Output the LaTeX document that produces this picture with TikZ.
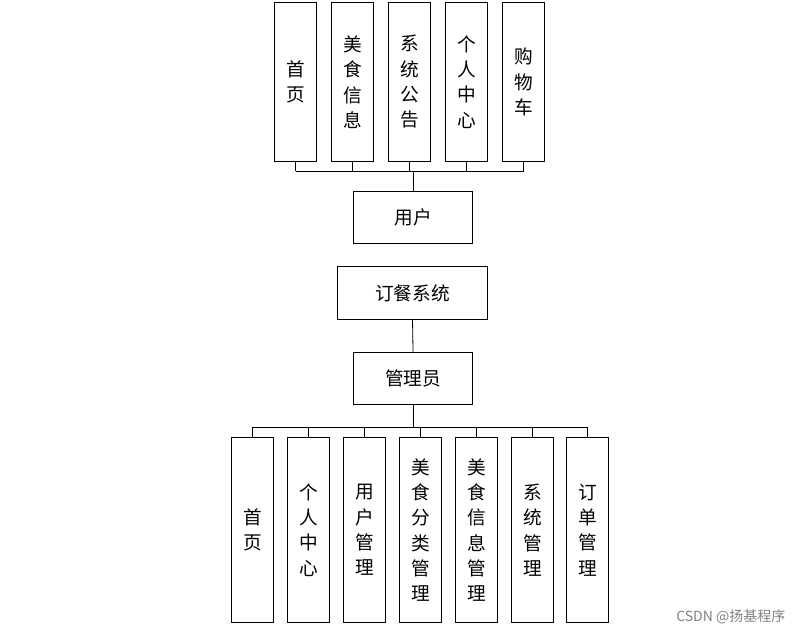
\documentclass[tikz,border=0pt]{standalone}
\usepackage{fontspec}
\setmainfont{Noto Sans CJK SC}
\begin{document}
\begin{tikzpicture}[x=0.75pt,y=-0.75pt,
  bx/.style={draw,thick,inner sep=0,anchor=north west,align=center,font=\fontsize{14}{19}\selectfont},
  ln/.style={draw,semithick}]
\useasboundingbox (0,0) rectangle (804,636);
% top
\foreach \x/\t [count=\i] in {274/首\\页,331/美\\食\\信\\息,388/系\\统\\公\\告,445/个\\人\\中\\心,502/购\\物\\车}{
  \node[bx,minimum width=31.5pt,minimum height=119.25pt] (t\i) at (\x,2) {\t};
  \draw[ln] (t\i.south) -- ++(0,-6.75pt) coordinate (tb\i);
}
\node[bx,minimum width=89.25pt,minimum height=39pt] (u) at (353,191) {用户};
\node[bx,minimum width=112.5pt,minimum height=39.75pt] (s) at (337,266) {订餐系统};
\node[bx,minimum width=89.25pt,minimum height=39pt] (m) at (353,352) {管理员};
\draw[ln] (tb1) -- (tb5);
\draw[ln] (u.north) -- (u.north |- tb1);
\draw[ln] (s.south) -- (m.north);
\foreach \x/\t [count=\i] in {231/首\\页,287/个\\人\\中\\心,343/用\\户\\管\\理,399/美\\食\\分\\类\\管\\理,455/美\\食\\信\\息\\管\\理,511/系\\统\\管\\理,566/订\\单\\管\\理}{
  \node[bx,minimum width=31.5pt,minimum height=138.75pt] (b\i) at (\x,437) {\t};
  \draw[ln] (b\i.north) -- ++(0,7.5pt) coordinate (bb\i);
}
\draw[ln] (bb1) -- (bb7);
\draw[ln] (m.south) -- (m.south |- bb1);
\node[anchor=east,text=gray,font=\fontsize{10.5}{12}\selectfont] (w) at (790,617) {CSDN @扬基程序};
\end{tikzpicture}
\end{document}
